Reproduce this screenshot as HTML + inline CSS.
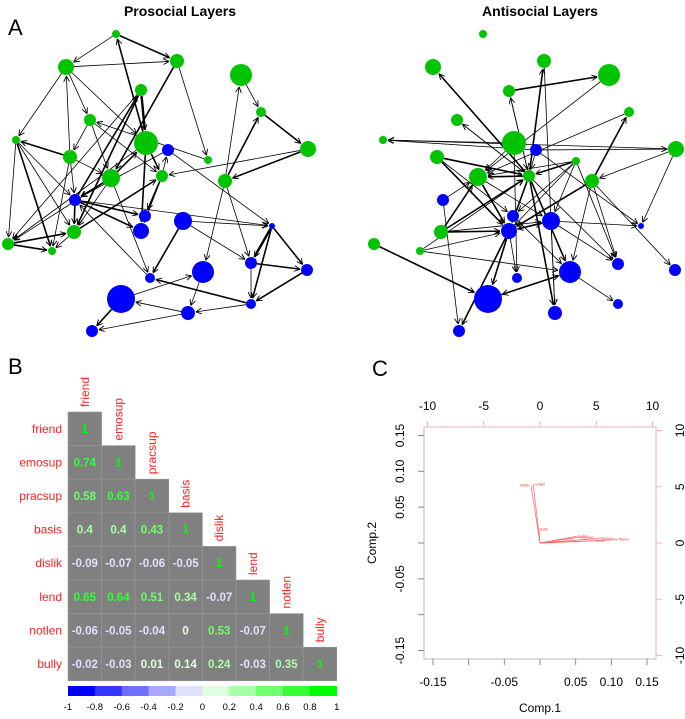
<!DOCTYPE html>
<html><head><meta charset="utf-8">
<style>
body{margin:0;background:#fff;width:685px;height:719px;overflow:hidden;font-family:"Liberation Sans",sans-serif}
svg{position:absolute;left:0;top:0}
</style></head>
<body>
<svg id="s" width="685" height="719" viewBox="0 0 685 719" xmlns="http://www.w3.org/2000/svg">
<defs>
<marker id="ah" viewBox="0 0 10 10" refX="10" refY="5" markerWidth="6" markerHeight="6" markerUnits="userSpaceOnUse" orient="auto"><path d="M0,0 L10,5 L0,10" fill="none" stroke="#000" stroke-width="1.5"/></marker>
</defs>
<text x="180" y="16" text-anchor="middle" font-weight="bold" font-size="14">Prosocial Layers</text>
<text x="540" y="16" text-anchor="middle" font-weight="bold" font-size="14">Antisocial Layers</text>
<text x="8" y="35" font-size="22">A</text>
<text x="8" y="374" font-size="22">B</text>
<text x="372" y="376" font-size="22">C</text>
<g id="netP"></g>
<g id="netA"></g>
<g id="corr"></g>
<g id="pca"></g>
</svg>
<script>
const NS="http://www.w3.org/2000/svg";
function mk(tag,attrs,parent,txt){const e=document.createElementNS(NS,tag);for(const k in attrs)e.setAttribute(k,attrs[k]);if(txt!==undefined)e.textContent=txt;parent.appendChild(e);return e;}

// ---------- networks ----------
const nodesP=[[116,34,4,'g'],[66,67,8,'g'],[177,61,7,'g'],[241,75,11,'g'],[141,90,6,'g'],[90,120,6,'g'],[261,112,5,'g'],[16,140,4,'g'],[146,143,12,'g'],[208,160,4,'g'],[308,149,8,'g'],[70,157,7,'g'],[111,178,9,'g'],[162,176,6,'g'],[225,181,7,'g'],[74,232,7,'g'],[8,244,6,'g'],[52,251,4,'g'],
[168,150,6,'b'],[75,200,6,'b'],[145,216,6,'b'],[141,231,8,'b'],[183,221,9,'b'],[272,226,3,'b'],[203,272,11,'b'],[150,278,5,'b'],[251,263,6,'b'],[307,270,6,'b'],[121,299,14,'b'],[188,313,7,'b'],[251,304,5,'b'],[92,331,6,'b']];
const edgesP=[[0,1,1],[0,2,2],[8,0,2],[1,2,1],[1,5,1],[11,1,1],[1,7,1],[1,8,1],[2,12,2],[2,9,1],[3,6,1],[14,3,1],[6,10,2],[10,14,2],[14,6,2],[5,11,1],[5,13,1],[5,12,1],[8,13,2],[12,8,2],[8,16,1],[4,8,3],[19,4,2],[4,16,1],[4,15,2],[7,16,1],[7,17,2],[7,19,1],[11,7,2],[7,15,1],[11,12,1],[11,17,1],[11,19,1],[12,19,2],[12,16,1],[12,15,1],[13,18,1],[13,20,2],[15,13,2],[18,19,1],[19,20,2],[19,21,2],[19,23,1],[19,15,2],[16,15,2],[16,17,2],[15,17,1],[22,23,1],[22,26,1],[22,25,2],[23,26,3],[23,30,2],[23,27,2],[26,27,2],[26,30,1],[27,30,2],[24,29,1],[28,24,1],[29,28,1],[29,31,1],[28,31,2],[25,19,1],[30,25,2],[30,29,1],[18,23,1],[14,24,1],[9,5,1],[8,21,2],[13,21,1],[10,13,1],[12,25,1],[14,26,1]];
const nodesA=[[483,34,4,'g'],[433,67,8,'g'],[544,61,7,'g'],[609,75,11,'g'],[509,91,6,'g'],[457,120,6,'g'],[629,112,5,'g'],[383,140,4,'g'],[514,143,12,'g'],[576,161,4,'g'],[676,149,8,'g'],[437,157,7,'g'],[478,177,9,'g'],[529,176,6,'g'],[592,181,7,'g'],[441,232,7,'g'],[374,244,6,'g'],[420,251,4,'g'],
[536,150,6,'b'],[443,200,6,'b'],[513,216,6,'b'],[509,231,8,'b'],[551,221,9,'b'],[641,226,3,'b'],[570,272,11,'b'],[517,278,5,'b'],[618,264,6,'b'],[675,270,6,'b'],[488,299,14,'b'],[555,313,7,'b'],[618,304,5,'b'],[459,331,6,'b']];
const edgesA=[[13,1,2],[4,13,1],[4,3,2],[13,5,1],[13,2,2],[2,29,1],[18,7,1],[18,10,1],[11,13,2],[11,21,2],[11,20,1],[13,12,2],[12,22,1],[13,21,2],[13,29,2],[13,26,1],[13,24,2],[14,6,2],[14,24,1],[14,26,1],[9,12,1],[9,21,1],[9,22,1],[9,26,1],[9,20,1],[10,23,1],[10,14,1],[6,12,1],[15,21,2],[15,12,2],[15,13,2],[15,22,1],[16,28,2],[17,21,1],[17,24,1],[17,13,1],[19,31,1],[19,12,1],[21,31,2],[21,25,1],[21,28,2],[22,21,2],[22,29,1],[24,30,1],[28,24,2],[8,12,1],[8,25,1],[18,23,1],[18,13,1],[14,21,2],[3,12,1],[5,13,1],[8,7,1],[13,4,1],[12,21,2],[14,27,1],[22,23,1],[10,7,1],[20,24,1],[21,22,1],[9,13,2],[22,26,1],[24,28,1]];

function drawNet(g,nodes,edges){
  edges.forEach(([a,b,w])=>{const A=nodes[a],B=nodes[b];const dx=B[0]-A[0],dy=B[1]-A[1],L=Math.hypot(dx,dy)||1;
    const x1=A[0]+dx/L*A[2],y1=A[1]+dy/L*A[2],x2=B[0]-dx/L*(B[2]+1),y2=B[1]-dy/L*(B[2]+1);
    const l=mk('line',{x1,y1,x2,y2,stroke:'#000','stroke-width':w*0.8,'marker-end':'url(#ah)'},g);
    
    });
  nodes.forEach(n=>{const c=mk('circle',{cx:n[0],cy:n[1],r:n[2],fill:n[3]=='g'?'#00c400':'#0000ff'},g);
    
    });
}
drawNet(document.getElementById('netP'),nodesP,edgesP);
drawNet(document.getElementById('netA'),nodesA,edgesA);

// ---------- correlation matrix ----------
const vars=['friend','emosup','pracsup','basis','dislik','lend','notlen','bully'];
const corrRows=[[1],[0.74,1],[0.58,0.63,1],[0.4,0.4,0.43,1],[-0.09,-0.07,-0.06,-0.05,1],[0.65,0.64,0.51,0.34,-0.07,1],[-0.06,-0.05,-0.04,0,0.53,-0.07,1],[-0.02,-0.03,0.01,0.14,0.24,-0.03,0.35,1]];
const palette=['#0000ff','#3535ff','#6f6fff','#a8a8ff','#e0e0ff','#e0ffe0','#a8ffa8','#6fff6f','#35ff35','#00ff00'];
const barTicks=['-1','-0.8','-0.6','-0.4','-0.2','0','0.2','0.4','0.6','0.8','1'];
const cg=document.getElementById('corr');
const X0=68,Y0=412,CS=33.6;
function col(v){let i=Math.floor((v+1)/0.2);if(i>9)i=9;if(i<0)i=0;if(v===0)i=5;return palette[i];}
corrRows.forEach((row,i)=>{
  const rl=mk('text',{x:X0-6,y:Y0+i*CS+CS/2+4,'text-anchor':'end','font-size':12,fill:'#ff2020'},cg,vars[i]);
  
  
  const cx=X0+i*CS+CS/2+4,cy=Y0+i*CS-5;
  const cl=mk('text',{x:cx,y:cy,'font-size':12,fill:'#ff2020',transform:`rotate(-90 ${cx} ${cy})`},cg,vars[i]);
  
  
  row.forEach((v,j)=>{
    const r=mk('rect',{x:X0+j*CS,y:Y0+i*CS,width:CS,height:CS,fill:'#808080',stroke:'#999','stroke-width':0.6},cg);
    
    
    const t=mk('text',{x:X0+j*CS+CS/2,y:Y0+i*CS+CS/2+4,'text-anchor':'middle','font-size':11.5,'font-weight':'bold',fill:col(v)},cg,String(v));
    
    
  });
});
const bw=(8*CS)/10;
palette.forEach((c,k)=>{const r=mk('rect',{x:X0+k*bw,y:686,width:bw+0.3,height:10,fill:c},cg);
  
  });
barTicks.forEach((t,k)=>{const e=mk('text',{x:X0+k*bw,y:710,'text-anchor':'middle','font-size':9.5},cg,t);
  
  });

// ---------- PCA biplot ----------
const loadVars=['dislik','notlen','bully','basis','emosup','pracsup','lend','friend'];
const loadX=[-0.8,-0.6,-0.1,3.3,3.4,5.1,4.9,6.9];
const loadY=[5.1,5.2,1.2,0.6,0.5,0.4,0.2,0.3];
const botTicks=[-0.15,-0.10,-0.05,0,0.05,0.10,0.15];
const botLabels=['-0.15','','-0.05','','0.05','0.10','0.15'];
const leftTicks=[0.15,0.10,0.05,0,-0.05,-0.10,-0.15];
const leftLabels=['0.15','0.10','0.05','','-0.05','','-0.15'];
const topTicks=[-10,-5,0,5,10];
const rightTicks=[10,5,0,-5,-10];
const pg=document.getElementById('pca');
const sx=v=>540+v*(647-433)/0.30, sy=v=>543-v*(650-435)/0.30;
const tx=v=>540+v*(653-428)/20, ty=v=>543-v*(655-430)/20;
const box=mk('rect',{x:424,y:427,width:232,height:232,fill:'none',stroke:'#aaa','stroke-width':0.8},pg);


mk('line',{x1:656,y1:427,x2:656,y2:659,stroke:'#ffb0b0','stroke-width':0.8},pg);
mk('line',{x1:424,y1:427,x2:656,y2:427,stroke:'#ffb0b0','stroke-width':0.8},pg);
botTicks.forEach((v,i)=>{mk('line',{x1:sx(v),y1:659,x2:sx(v),y2:665,stroke:'#888'},pg);
  const t=mk('text',{x:sx(v),y:686,'text-anchor':'middle','font-size':12},pg,botLabels[i]);
  
  });
leftTicks.forEach((v,i)=>{mk('line',{x1:418,y1:sy(v),x2:424,y2:sy(v),stroke:'#888'},pg);
  const t=mk('text',{x:404,y:sy(v),'text-anchor':'middle','font-size':12,transform:`rotate(-90 404 ${sy(v)})`},pg,leftLabels[i]);
  
  });
topTicks.forEach(v=>{mk('line',{x1:tx(v),y1:421,x2:tx(v),y2:427,stroke:'#ffb0b0'},pg);
  const t=mk('text',{x:tx(v),y:410,'text-anchor':'middle','font-size':12},pg,String(v));
  
  });
rightTicks.forEach(v=>{mk('line',{x1:656,y1:ty(v),x2:662,y2:ty(v),stroke:'#ffb0b0'},pg);
  const t=mk('text',{x:684,y:ty(v),'text-anchor':'middle','font-size':12,transform:`rotate(-90 684 ${ty(v)})`},pg,String(v));
  
  });
const xt=mk('text',{x:540,y:712,'text-anchor':'middle','font-size':12},pg,'Comp.1');


const yt=mk('text',{x:376,y:543,'text-anchor':'middle','font-size':12,transform:'rotate(-90 376 543)'},pg,'Comp.2');


loadVars.forEach((n,i)=>{const x=tx(loadX[i]),y=ty(loadY[i]);
  const l=mk('line',{x1:tx(0),y1:ty(0),x2:x,y2:y,stroke:'#ff6060','stroke-width':0.7},pg);
  
  
  const t=mk('text',{x:x+(i==0?-2:1),y:y+1,'text-anchor':i==0?'end':'start','font-size':4,fill:'#ff3030'},pg,n);
  
  });
</script>
</body></html>
